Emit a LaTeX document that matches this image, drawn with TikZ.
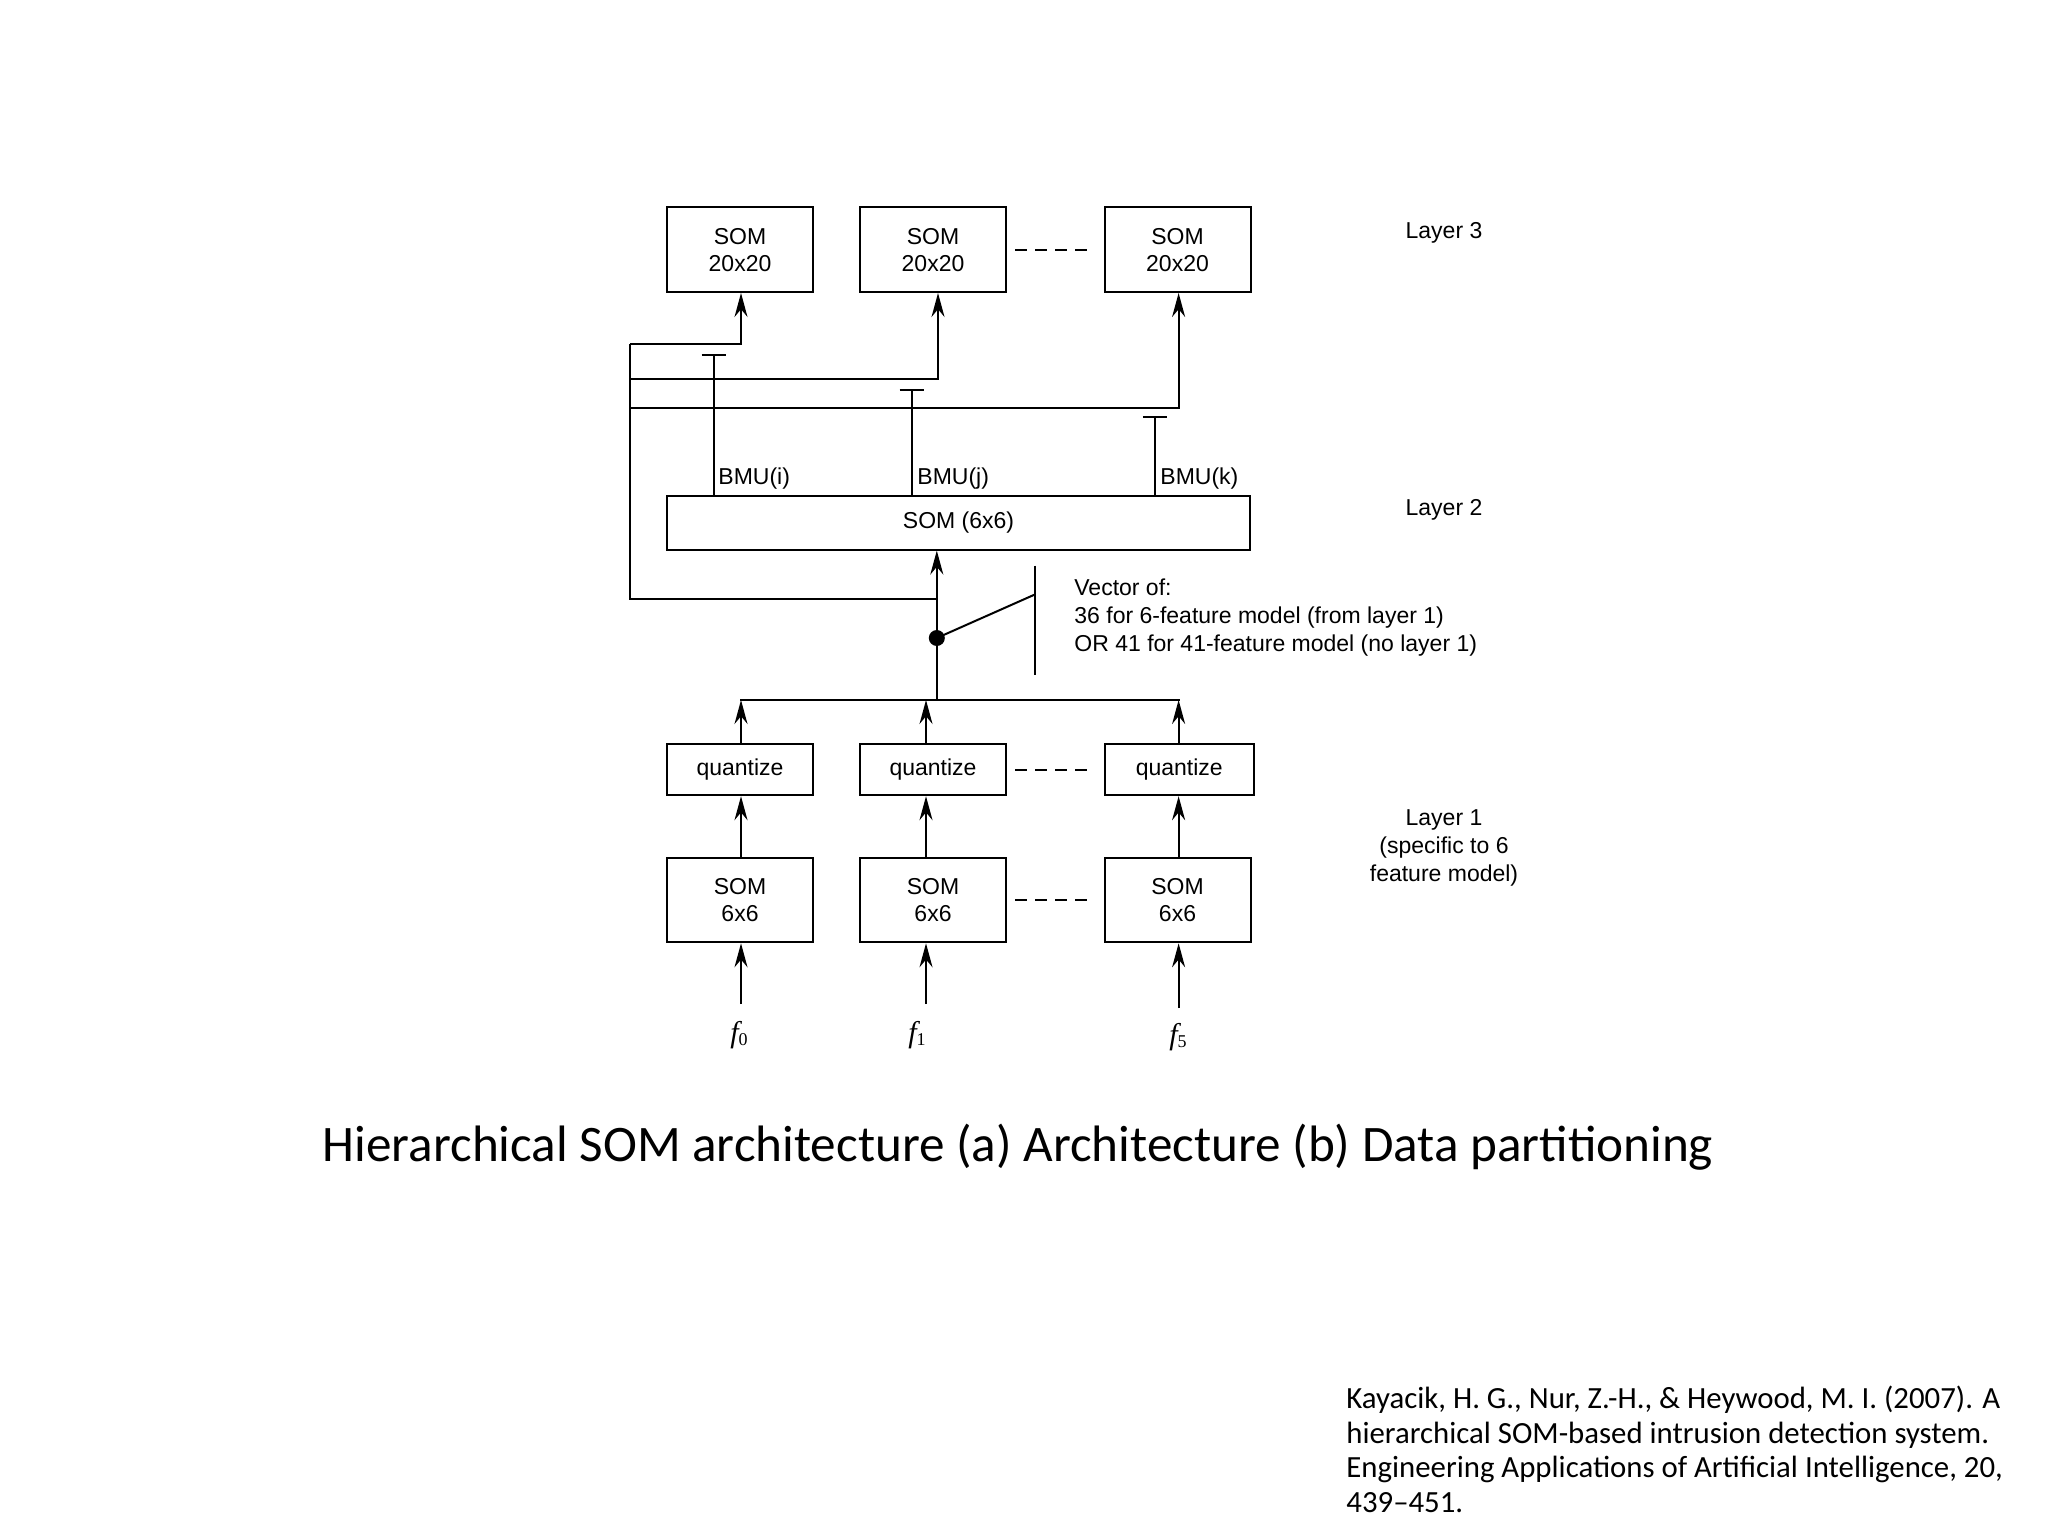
\documentclass[tikz,border=0pt]{standalone}
\usepackage{fontspec}
\setmainfont{Liberation Sans}
\newfontfamily\capfont{Carlito}
\usetikzlibrary{arrows.meta,calc}
\tikzset{
  ln/.style={line width=1pt},
  arr/.style={ln,-{Stealth[length=12pt,width=6.5pt]}},
  tee/.style={ln,-{Bar[width=12pt]}},
  box/.style={draw,ln,minimum width=73pt,minimum height=42.3pt,inner sep=0pt,align=center,font=\fontsize{11.5}{13.5}\selectfont},
  qbox/.style={box,minimum height=25.5pt},
  lbl/.style={font=\fontsize{11.5}{14}\selectfont,inner sep=0pt,align=center},
  fl/.style={font=\fontsize{15}{15}\itshape\selectfont\fontspec{Liberation Serif}},
  dsh/.style={ln,dash pattern=on 6pt off 4pt}
}
\newcommand{\fs}[1]{\raisebox{-1.5pt}{\upshape\fontsize{9}{9}\selectfont #1}}
\begin{document}
\begin{tikzpicture}[x=0.5pt,y=-0.5pt]
\useasboundingbox (0,0) rectangle (2048,1536);
% layer 3
\node[box] (t1) at (740,249.7) {SOM\\20x20};
\node[box] (t2) at (933,249.7) {SOM\\20x20};
\node[box] (t3) at (1177.5,249.7) {SOM\\20x20};
\draw[dsh] ($(t2.east)+(8,0)$) -- ($(t3.west)+(-12,0)$);
% layer 2
\node[box,minimum width=291.5pt,minimum height=27pt] (l2) at (958.5,522.6) {SOM (6x6)};
% quantize
\node[qbox] (q1) at (740,769.7) {quantize};
\node[qbox] (q2) at (933,769.7) {quantize};
\node[qbox,minimum width=74.5pt] (q3) at (1179.3,769.7) {quantize};
\draw[dsh] ($(q2.east)+(8,0)$) -- ($(q3.west)+(-12,0)$);
% layer 1
\node[box] (s1) at (740,900) {SOM\\6x6};
\node[box] (s2) at (933,900) {SOM\\6x6};
\node[box] (s3) at (1177.5,900) {SOM\\6x6};
\draw[dsh] ($(s2.east)+(8,0)$) -- ($(s3.west)+(-12,0)$);
% inputs
\node[fl] (f0) at (739,1035) {f\fs{0}};
\node[fl] (f1) at (917,1035) {f\fs{1}};
\node[fl] (f5) at (1178,1037) {f\fs{5}};
\draw[arr] (741,1004) -- (s1.south -| 741,0);
\draw[arr] (926,1004) -- (s2.south -| 926,0);
\draw[arr] (1178.6,1008) -- (s3.south -| 1178.6,0);
\draw[arr] (s1.north -| 741,0) -- (q1.south -| 741,0);
\draw[arr] (s2.north -| 926,0) -- (q2.south -| 926,0);
\draw[arr] (s3.north -| 1178.6,0) -- (q3.south -| 1178.6,0);
% bus
\coordinate (bl) at (740,700);
\coordinate (br) at (1180,700);
\coordinate (bm) at (936.8,700);
\draw[ln] (bl) -- (br);
\draw[arr] (q1.north -| 741,0) -- (741,700);
\draw[arr] (q2.north -| 926,0) -- (926,700);
\draw[arr] (q3.north -| 1178.6,0) -- (1178.6,700);
% main feed
\coordinate (dot) at (936.8,638);
\coordinate (ret) at (936.8,598.5);
\draw[arr] (bm) -- (l2.south -| bm);
\fill (dot) circle (4pt);
\coordinate (sw) at (1034.6,594.6);
\draw[ln] (dot) -- (sw);
\draw[ln] (1034.6,565.5) -- (1034.6,675);
\node[lbl,anchor=west,align=left] (vec) at (1074,618) {Vector of:\\36 for 6-feature model (from layer 1)\\OR 41 for 41-feature model (no layer 1)};
% return loops
\coordinate (L0) at (630,598.5);
\draw[ln] (ret) -- (L0) -- (630,343.5);
\draw[arr] (630,343.5) -| (t1.south -| 741,0);
\draw[arr] (630,379) -| (t2.south -| 938,0);
\draw[arr] (630,408) -| (t3.south -| 1178.6,0);
% BMU
\draw[tee] (l2.north -| 713.5,0) -- (713.5,354);
\draw[tee] (l2.north -| 911.7,0) -- (911.7,388.5);
\draw[tee] (l2.north -| 1154.8,0) -- (1154.8,416);
\node[lbl,anchor=south west] at (718,490) {BMU(i)};
\node[lbl,anchor=south west] at (917,490) {BMU(j)};
\node[lbl,anchor=south west] at (1160,490) {BMU(k)};
% layer labels
\node[lbl] (lay3) at (1444,232.5) {Layer 3};
\node[lbl] (lay2) at (1444,510) {Layer 2};
\node[lbl] (lay1) at (1444,848) {Layer 1\\(specific to 6\\feature model)};
% captions
\node[font=\capfont\fontsize{25.6}{30}\selectfont,inner sep=0pt] (cap) at (1018,1147) {Hierarchical SOM architecture (a) Architecture (b) Data partitioning};
\node[font=\capfont\fontsize{15.4}{17.2}\selectfont,inner sep=0pt,anchor=north west,align=left] (ref) at (1346,1386) {Kayacik, H. G., Nur, Z.-H., \& Heywood, M. I. (2007). A\\hierarchical SOM-based intrusion detection system.\\Engineering Applications of Artificial Intelligence, 20,\\439–451.};
\end{tikzpicture}
\end{document}
